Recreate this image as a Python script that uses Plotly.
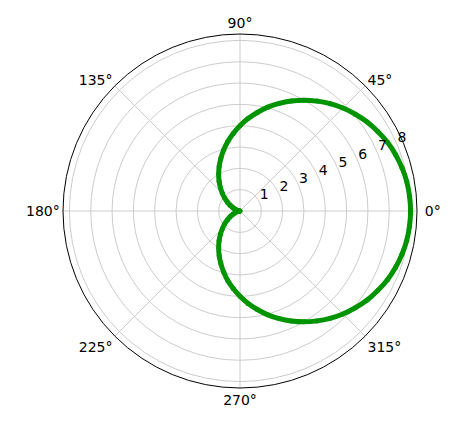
import plotly.graph_objects as go

# angle in degrees, radius
theta = [0, 5, 10, 15, 20, 25, 30, 35, 40, 45, 50, 55, 60, 65, 70, 75, 80, 85, 90,
         95, 100, 105, 110, 115, 120, 125, 130, 135, 140, 145, 150, 155, 160, 165, 170, 175, 180]
r_upper = [8.0, 7.98, 7.94, 7.86, 7.76, 7.63, 7.46, 7.28, 7.06, 6.83, 6.57, 6.29, 6.0, 5.69, 5.37, 5.04, 4.69, 4.35, 4.0,
           3.65, 3.31, 2.96, 2.63, 2.31, 2.0, 1.71, 1.43, 1.17, 0.94, 0.72, 0.54, 0.37, 0.24, 0.14, 0.06, 0.02, 0.0]

# lower half mirrors the upper half
theta_all = theta + [360 - t for t in reversed(theta[:-1])]
r_all = r_upper + list(reversed(r_upper[:-1]))

radial_ticks = [1, 2, 3, 4, 5, 6, 7, 8]
radial_labels = ['1', '2', '3', '4', '5', '6', '7', '8']
radial_label_angle = 22.5
angle_ticks = [0, 45, 90, 135, 180, 225, 270, 315]
angle_labels = ['0°', '45°', '90°', '135°', '180°', '225°', '270°', '315°']

nb = '\u00a0'

fig = go.Figure()
fig.add_trace(go.Scatterpolar(
    r=r_all, theta=theta_all, mode='lines+markers',
    line=dict(color='#009400', width=5, shape='spline'),
    marker=dict(color='#009400', size=5),
    showlegend=False,
))

# radial tick labels, placed like matplotlib does (along 22.5 deg, up-right)
fig.add_trace(go.Scatterpolar(
    r=radial_ticks, theta=[radial_label_angle] * len(radial_ticks),
    mode='text', text=radial_labels, textposition='top right',
    textfont=dict(size=14, color='black', family='DejaVu Sans'),
    showlegend=False, hoverinfo='skip',
))

fig.update_layout(
    width=474, height=434,
    margin=dict(l=55, r=65, t=26, b=54, autoexpand=False),
    paper_bgcolor='white',
    font=dict(family='DejaVu Sans', size=14, color='black'),
    polar=dict(
        bgcolor='white',
        radialaxis=dict(
            range=[0, 8.3], tickvals=radial_ticks, showticklabels=False,
            angle=22.5, showline=False, ticks='', gridcolor='#cccccc', gridwidth=1,
        ),
        angularaxis=dict(
            tickvals=angle_ticks,
            ticktext=[(nb + t) if v == 0 else t for v, t in zip(angle_ticks, angle_labels)],
            direction='counterclockwise',
            rotation=0, showline=True, linecolor='black', linewidth=1, ticks='',
            gridcolor='#cccccc', gridwidth=1,
            tickfont=dict(size=14, color='black'),
        ),
    ),
)

fig.write_html("out.html")
